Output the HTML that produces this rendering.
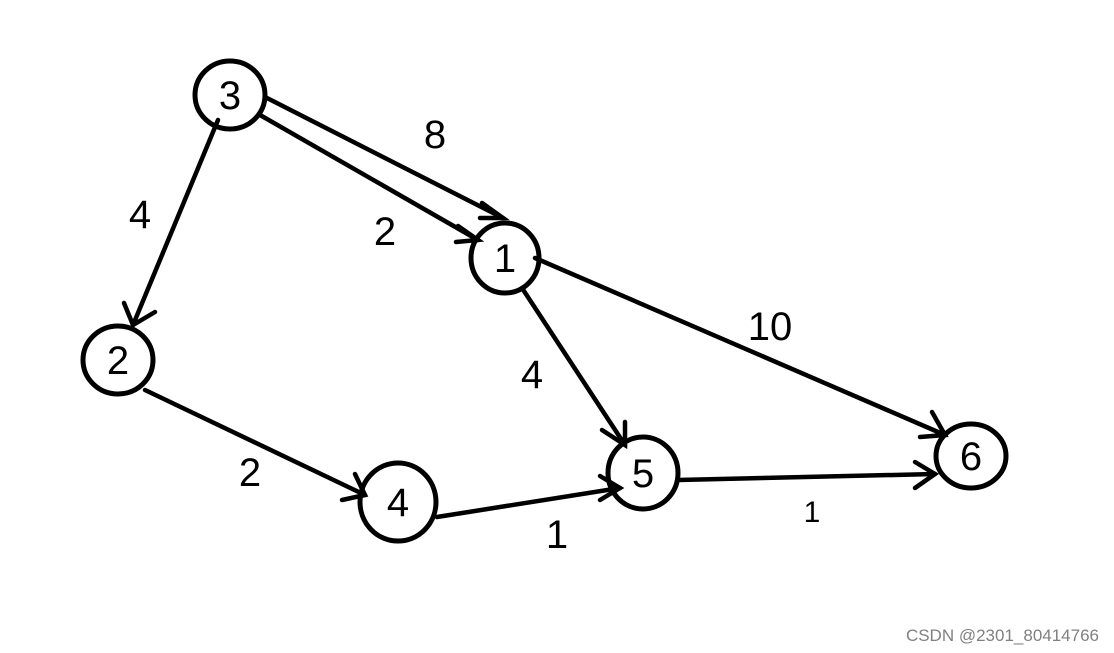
<!DOCTYPE html>
<html><head><meta charset="utf-8"><style>
html,body{margin:0;padding:0;background:#fff;width:1114px;height:653px;overflow:hidden}
</style></head><body>
<svg width="1114" height="653" viewBox="0 0 1114 653" xmlns="http://www.w3.org/2000/svg">
<g fill="none" stroke="#000" stroke-width="5" stroke-linecap="round">
<ellipse cx="230" cy="95" rx="35" ry="34"/>
<ellipse cx="505" cy="258" rx="34" ry="35"/>
<ellipse cx="118" cy="360" rx="35" ry="34"/>
<ellipse cx="398" cy="502" rx="38" ry="39"/>
<ellipse cx="643" cy="473" rx="35" ry="36"/>
<ellipse cx="971" cy="456" rx="35" ry="32"/>
</g>
<g fill="none" stroke="#000" stroke-width="4.5" stroke-linecap="round">
<line x1="265" y1="97" x2="503" y2="218"/>
<polyline points="482,203 503,218 480,218"/>
<line x1="260" y1="115" x2="478" y2="240"/>
<polyline points="458,226 478,240 456,242"/>
<line x1="218" y1="120" x2="133" y2="325"/>
<polyline points="124,303 133,325 155,312"/>
<line x1="535" y1="258" x2="945" y2="435"/>
<polyline points="932,412 945,435 920,437"/>
<line x1="522" y1="288" x2="625" y2="445"/>
<polyline points="602,430 625,445 625,422"/>
<line x1="145" y1="390" x2="365" y2="495"/>
<polyline points="355,474 365,495 342,500"/>
<line x1="437" y1="517" x2="620" y2="488"/>
<polyline points="600,476 620,488 600,500"/>
<line x1="678" y1="480" x2="935" y2="474"/>
<polyline points="915,462 935,474 915,488"/>
</g>
<g font-family="Liberation Sans, sans-serif" font-size="40" fill="#000" text-anchor="middle">
<text x="230" y="109">3</text>
<text x="505" y="272">1</text>
<text x="118" y="374">2</text>
<text x="398" y="516">4</text>
<text x="643" y="487">5</text>
<text x="971" y="470">6</text>
<text x="435" y="148">8</text>
<text x="385" y="245">2</text>
<text x="140" y="228">4</text>
<text x="770" y="340">10</text>
<text x="532" y="388">4</text>
<text x="250" y="486">2</text>
<text x="557" y="548">1</text>
<text x="812" y="522" font-size="30">1</text>
</g>
<text x="1099" y="641" text-anchor="end" font-family="Liberation Sans, sans-serif" font-size="17" fill="#808080">CSDN @2301_80414766</text>
</svg>
</body></html>
